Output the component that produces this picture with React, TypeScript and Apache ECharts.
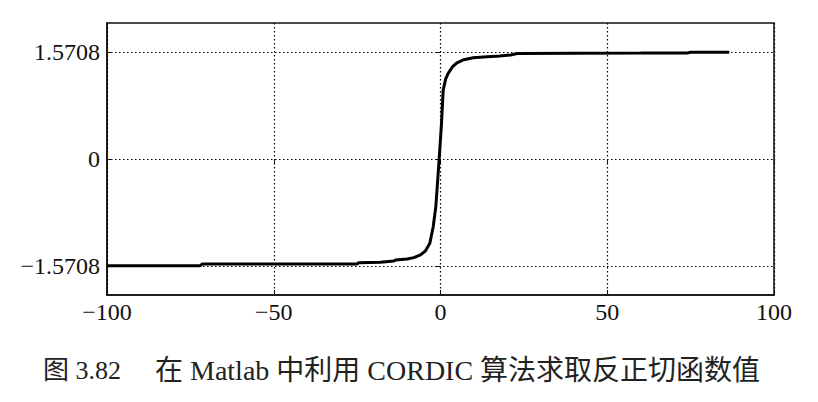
import React, { useEffect, useRef } from "react";
import * as echarts from "echarts";

// Curve points (x, CORDIC arctan value)
const xValues = [
  -100, -80, -72, -71.5, -50, -25, -24.5, -18, -14, -13.5, -10, -8, -6, -4.5, -3.2,
  -2.2, -1.4, -0.7, -0.4, 0.3, 0.8, 1.5, 2.3, 3.5, 4.8, 7, 9.8, 14, 17.8, 21, 23,
  40, 60, 74, 75, 86.6,
];
const yValues = [
  -1.57, -1.57, -1.57, -1.545, -1.545, -1.545, -1.525, -1.52, -1.5, -1.485, -1.47,
  -1.45, -1.41, -1.35, -1.24, -1.0, -0.7, -0.21, 0, 0.525, 1.01, 1.17, 1.26, 1.35,
  1.41, 1.46, 1.49, 1.505, 1.515, 1.53, 1.55, 1.555, 1.557, 1.56, 1.57, 1.57,
];

const yTickValues = [-1.5708, 0, 1.5708];
const captionLeft = "图 3.82";
const captionRight = "在 Matlab 中利用 CORDIC 算法求取反正切函数值";

const FONT = "'Liberation Serif', 'Times New Roman', 'Noto Sans CJK SC', serif";

export default function App() {
  const ref = useRef<HTMLDivElement>(null);
  useEffect(() => {
    if (!ref.current) return;
    const chart = echarts.init(ref.current, undefined, { renderer: "svg" });
    const minus = (v: number | string) => String(v).replace("-", "\u2212");
    const dotted = { color: "#000", width: 1.2, type: [1.5, 2.5] as any };
    const data = xValues.map((x, i) => [x, yValues[i]]);
    chart.setOption({
      animation: false,
      backgroundColor: "#ffffff",
      grid: {
        left: 107,
        right: 44,
        top: 23,
        bottom: 107,
        show: true,
        borderColor: "#111",
        borderWidth: 1.5,
      },
      xAxis: [
        {
          type: "value",
          min: -100,
          max: 100,
          interval: 50,
          position: "bottom",
          axisLine: { show: true, onZero: false, lineStyle: { color: "#111", width: 1.5 } },
          axisTick: { show: true, inside: true, length: 5, lineStyle: { color: "#111" } },
          axisLabel: {
            color: "#111",
            fontFamily: FONT,
            fontSize: 24,
            margin: 5,
            formatter: (v: number) => minus(v),
          },
          splitLine: { show: true, lineStyle: dotted },
        },
        {
          type: "value",
          min: -100,
          max: 100,
          interval: 50,
          position: "top",
          axisLine: { show: false },
          axisTick: { show: true, inside: true, length: 5, lineStyle: { color: "#111" } },
          axisLabel: { show: false },
          splitLine: { show: false },
        },
      ],
      yAxis: [
        {
          type: "value",
          min: -2,
          max: 2,
          position: "left",
          axisLine: { show: true, onZero: false, lineStyle: { color: "#111", width: 1.5 } },
          axisTick: {
            show: true,
            inside: true,
            length: 5,
            customValues: yTickValues,
            lineStyle: { color: "#111" },
          },
          axisLabel: {
            color: "#111",
            fontFamily: FONT,
            fontSize: 24,
            margin: 7,
            customValues: yTickValues,
            formatter: (v: number) => minus(v),
          },
          splitLine: { show: true, lineStyle: dotted },
        },
        {
          type: "value",
          min: -2,
          max: 2,
          position: "right",
          axisLine: { show: false },
          axisTick: {
            show: true,
            inside: true,
            length: 5,
            customValues: yTickValues,
            lineStyle: { color: "#111" },
          },
          axisLabel: { show: false },
          splitLine: { show: false },
        },
      ],
      series: [
        {
          type: "line",
          data,
          xAxisIndex: 0,
          yAxisIndex: 0,
          showSymbol: false,
          symbol: "none",
          lineStyle: { color: "#000", width: 3 },
          z: 5,
        },
      ],
      graphic: [
        {
          type: "text",
          left: 43,
          top: 357,
          style: {
            text: captionLeft,
            fontFamily: FONT,
            fontSize: 26,
            fill: "#222",
          },
        },
        {
          type: "text",
          left: 155,
          top: 356,
          style: {
            text: captionRight,
            fontFamily: FONT,
            fontSize: 28,
            fill: "#222",
          },
        },
      ],
    });
    return () => chart.dispose();
  }, []);
  return (
    <div
      ref={ref}
      style={{ position: "fixed", left: 0, top: 0, width: 818, height: 402 }}
    />
  );
}
